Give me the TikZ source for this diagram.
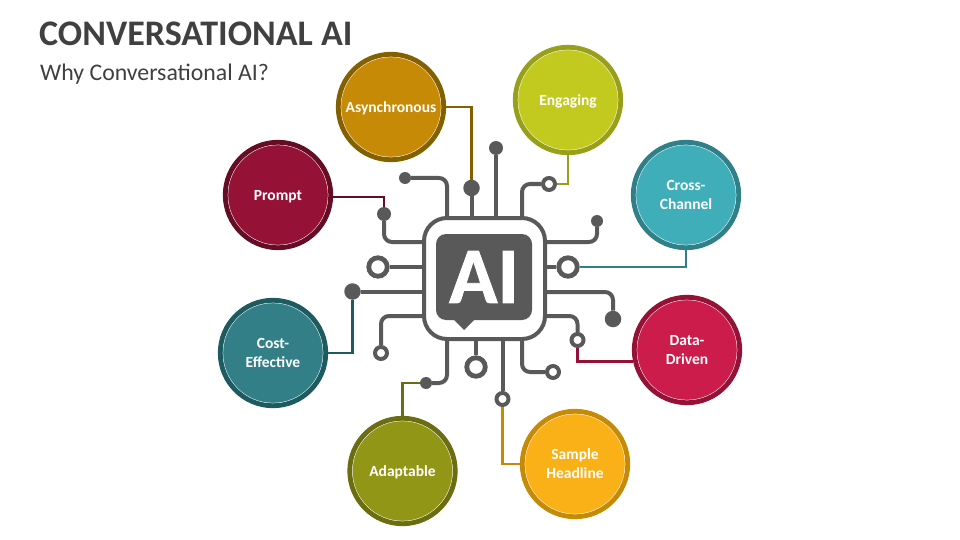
\documentclass[tikz,border=0pt]{standalone}
\usepackage{fontspec}
\setmainfont{Carlito}
\usetikzlibrary{shadows,positioning,calc}
\definecolor{inkgray}{HTML}{595959}
\definecolor{titlegray}{HTML}{404040}
\definecolor{asyncfill}{HTML}{C68A06}
\definecolor{asyncring}{HTML}{856000}
\definecolor{promptfill}{HTML}{951236}
\definecolor{promptring}{HTML}{640D24}
\definecolor{engagefill}{HTML}{C2CA20}
\definecolor{engagering}{HTML}{98A01A}
\definecolor{crossfill}{HTML}{40AEB8}
\definecolor{crossring}{HTML}{2F8088}
\definecolor{costfill}{HTML}{327F87}
\definecolor{costring}{HTML}{1E5B60}
\definecolor{adaptfill}{HTML}{929617}
\definecolor{adaptring}{HTML}{6A6D10}
\definecolor{datafill}{HTML}{CB1C4B}
\definecolor{dataring}{HTML}{951236}
\definecolor{samplefill}{HTML}{FAB118}
\definecolor{samplering}{HTML}{C68A06}
\tikzset{
	topic/.style n args={2}{circle,minimum size=105.5pt,inner sep=0pt,fill=#1,draw=#2,line width=4.8pt,
		text=white,align=center,font=\fontsize{15.5}{19}\selectfont\bfseries,
		drop shadow={shadow xshift=0pt,shadow yshift=0pt,shadow scale=1.035,fill=black,opacity=.3},
		path picture={\draw[white,line width=.9pt] (path picture bounding box.center) circle (50.3pt);}},
	oneline/.style={text height=14.5pt,text depth=3pt},
	trace/.style={inkgray,line width=4pt,rounded corners=8pt},
	link/.style={line width=2.8pt},
	bigdot/.style={circle,fill=inkgray,inner sep=0pt,minimum size=16.5pt},
	middot/.style={circle,fill=inkgray,inner sep=0pt,minimum size=14pt},
	smalldot/.style={circle,fill=inkgray,inner sep=0pt,minimum size=12pt},
	smallring/.style={circle,fill=white,draw=inkgray,line width=4pt,inner sep=0pt,minimum size=12pt},
	bigring/.style={circle,fill=white,draw=inkgray,line width=4.8pt,inner sep=0pt,minimum size=18.5pt}
}
\begin{document}
\begin{tikzpicture}[x=1pt,y=-1pt]
	\useasboundingbox (0,0) rectangle (960,540);
	\node (title) [anchor=base west,inner sep=0pt,text=titlegray,font=\fontsize{36}{40}\selectfont\bfseries] at (39,46) {CONVERSATIONAL AI};
	\node (subtitle) [anchor=base west,inner sep=0pt,text=titlegray,font=\fontsize{23.8}{28}\selectfont] at (40,81) {Why Conversational AI?};
	% chip
	\node (chip) [rectangle,draw=inkgray,line width=4pt,rounded corners=23pt,minimum width=121pt,minimum height=121pt,inner sep=0pt] at (484.5,278.5) {};
	\node (pad) [rectangle,fill=inkgray,rounded corners=10pt,minimum width=96pt,minimum height=86pt,inner sep=0pt] at (484,277) {};
	\fill [inkgray] (453,319) -- (464,330) -- (475,319) -- cycle;
	\node (ai) [text=white,inner sep=0pt,font=\fontsize{80}{80}\selectfont\bfseries\addfontfeatures{FakeBold=1}] at (484,277) {AI};
	% outer circles
	\node (async) [topic={asyncfill}{asyncring},oneline] at (391,107) {Asynchronous};
	\node (prompt) [topic={promptfill}{promptring},oneline] at (278,195) {Prompt};
	\node (engage) [topic={engagefill}{engagering},oneline] at (568,100) {Engaging};
	\node (cross) [topic={crossfill}{crossring}] at (686,195) {Cross-\\Channel};
	\node (cost) [topic={costfill}{costring}] at (273,353) {Cost-\\Effective};
	\node (adapt) [topic={adaptfill}{adaptring},oneline] at (402.5,471) {Adaptable};
	\node (data) [topic={datafill}{dataring}] at (687,350) {Data-\\Driven};
	\node (sample) [topic={samplefill}{samplering}] at (575,464) {Sample\\Headline};
	% trace ends
	\node (endA) [smalldot] at (405,178) {};
	\node (endB) [bigdot] at (471.5,188) {};
	\node (endC) [middot] at (496,148) {};
	\node (endD) [smallring] at (549,184) {};
	\node (endE) [smalldot] at (597,221) {};
	\node (endF) [bigring] at (568,267) {};
	\node (endG) [bigdot] at (613,319) {};
	\node (endH) [smallring] at (577.5,340) {};
	\node (endI) [smallring] at (553,372) {};
	\node (endJ) [smallring] at (502.5,399) {};
	\node (endK) [bigring] at (476,367) {};
	\node (endL) [smalldot] at (426,383) {};
	\node (endM) [smallring] at (381,353) {};
	\node (endN) [bigdot] at (352.5,291.5) {};
	\node (endO) [bigring] at (378,267) {};
	\node (endP) [middot] at (384,214) {};
	% traces
	\draw [trace] ([xshift=-37.5pt]chip.north) |- (endA);
	\draw [trace] (chip.north -| endB) -- (endB);
	\draw [trace] (chip.north -| endC) -- (endC);
	\draw [trace] ([xshift=37.5pt]chip.north) |- (endD);
	\draw [trace] ([yshift=36.5pt]chip.east) -| (endE);
	\draw [trace] (chip.east |- endF) -- (endF);
	\draw [trace] ([yshift=-13.5pt]chip.east) -| (endG);
	\draw [trace] ([yshift=-37.5pt]chip.east) -| (endH);
	\draw [trace] ([xshift=37.5pt]chip.south) |- (endI);
	\draw [trace] (chip.south -| endJ) -- (endJ);
	\draw [trace] (chip.south -| endK) -- (endK);
	\draw [trace] ([xshift=-37.5pt]chip.south) |- (endL);
	\draw [trace] ([yshift=-37.5pt]chip.west) -| (endM);
	\draw [trace] (chip.west |- endN) -- (endN);
	\draw [trace] (chip.west |- endO) -- (endO);
	\draw [trace] ([yshift=36.5pt]chip.west) -| (endP);
	% links
	\draw [link,asyncring] (async.east) -| (endB);
	\draw [link,promptring] (prompt.-2) -| (endP);
	\draw [link,engagering] (engage.south) |- (endD);
	\draw [link,crossring] (cross.south) |- (endF);
	\draw [link,costring] (cost.east) -| (endN);
	\draw [link,adaptring] (adapt.north) |- (endL);
	\draw [link,dataring] (data.192) -| (endH);
	\draw [link,samplering] (sample.west) -| (endJ);
\end{tikzpicture}
\end{document}
